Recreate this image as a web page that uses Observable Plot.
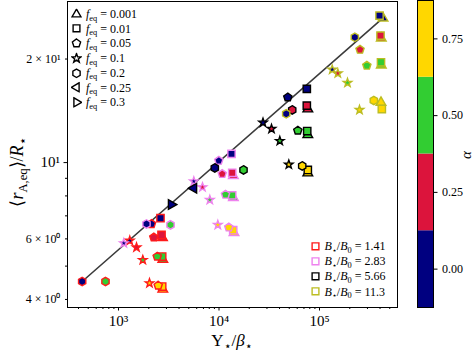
<!DOCTYPE html>
<html><head><meta charset="utf-8">
<script src="https://cdn.jsdelivr.net/npm/d3@7"></script>
<script src="https://cdn.jsdelivr.net/npm/@observablehq/plot@0.6"></script>
<style>
body{margin:0;background:#fff;}
#fig{position:relative;width:474px;height:353px;overflow:hidden;font-family:"Liberation Serif",serif;color:#000;}
#fig svg{position:absolute;left:0;top:0;}
.lbl{position:absolute;white-space:nowrap;line-height:1;}
.s{font-size:70%;position:relative;top:0.3em;}
.leg{position:absolute;white-space:nowrap;line-height:1;font-size:12px;display:flex;align-items:center;}
.leg svg{position:static !important;margin-right:4px;}
</style></head><body><div id="fig"></div>
<script>
// ---- data: [feq, alpha, x = Upsilon/beta, y = <r_A,eq>/R] per B*/B0 group ----
const groupB141 = [
  [0.2,0,435,4.51],[0.2,0.5,742,4.51],
  [0.1,0,1295,5.93],[0.1,0.25,1511,5.67],[0.1,0.5,1745,5.21],[0.1,0.75,2034,4.46],
  [0.05,0,2130,6.63],[0.05,0.25,2245,6.06],[0.05,0.5,2427,5.33],[0.05,0.75,2483,4.39],
  [0.001,0.25,2740,6.05],[0.001,0.5,2760,5.23],[0.001,0.75,2760,4.28],
  [0.01,0,2617,6.89],[0.01,0.25,2679,6.16],[0.01,0.5,2721,5.33],[0.01,0.75,2721,4.36]
];
const groupB283 = [
  [0.1,0,1129,5.83],[0.2,0,1899,6.63],[0.2,0.5,3292,6.59],
  [0.1,0,5616,8.82],[0.1,0.25,6850,8.48],[0.1,0.5,8100,7.79],[0.1,0.75,9730,6.59],
  [0.05,0,9954,10.13],[0.05,0.25,10760,9.27],[0.05,0.5,11605,8.07],[0.05,0.75,12515,6.48],
  [0.001,0.25,13900,9.15],[0.001,0.5,13900,7.9],[0.001,0.75,14100,6.25],
  [0.01,0,13315,10.6],[0.01,0.25,13530,9.34],[0.01,0.5,13530,8.03],[0.01,0.75,13845,6.36]
];
const groupB566 = [
  [0.3,0,3345,7.55],[0.25,0,5616,8.42],
  [0.2,0,9083,9.65],[0.2,0.5,17530,9.52],
  [0.1,0,27400,13.07],[0.1,0.25,33300,12.53],[0.1,0.5,40270,11.56],[0.1,0.75,49480,9.87],
  [0.05,0,48350,15.48],[0.2,0.25,53500,14.23],[0.05,0.5,60830,12.39],[0.2,0.75,67290,9.78],
  [0.001,0.25,76500,14.31],[0.001,0.5,76500,12.04],[0.001,0.75,76500,9.32],
  [0.01,0,74760,16.38],[0.01,0.25,74760,14.64],[0.01,0.5,75450,12.35],[0.01,0.75,76500,9.52]
];
const groupB113 = [
  [0.2,0,46640,13.86],
  [0.1,0,133800,18.64],[0.1,0.25,152100,18.18],[0.1,0.5,189900,17.06],[0.1,0.75,250000,14.23],
  [0.2,0,224500,23.13],[0.05,0.25,252900,21.3],[0.05,0.5,295700,19.14],[0.2,0.75,347000,15.15],
  [0.001,0,428600,26.3],[0.001,0.25,412000,23.0],[0.001,0.5,412000,19.2],[0.001,0.75,409000,14.95],
  [0.01,0,395400,26.75],[0.01,0.25,404600,23.4],[0.01,0.5,409000,19.57],[0.01,0.75,417000,14.31]
];
const fitX = [435, 421000];
const fitY = [4.51, 26.2];

const Bvalues = [1.41, 2.83, 5.66, 11.3];
const Blabels = ["1.41", "2.83", "5.66", "11.3"];
const Bcolors = ["#ff1a1a", "#ee82ee", "#000000", "#bcbd22"];
const feqValues = [0.001, 0.01, 0.05, 0.1, 0.2, 0.25, 0.3];
const feqLabels = ["0.001", "0.01", "0.05", "0.1", "0.2", "0.25", "0.3"];
const feqShapes = ["tri", "sq", "pent", "star", "hex", "tril", "trir"];
const alphaValues = [0, 0.25, 0.5, 0.75];
const alphaColors = ["#000080", "#dc143c", "#32cd32", "#ffd700"];
const alphaTicks = [0, 0.25, 0.5, 0.75];
const xMajor = [1e3, 1e4, 1e5];
const xMajorLabels = ["10³", "10⁴", "10⁵"];
const xMinor = [400,500,600,700,800,900,2000,3000,4000,5000,6000,7000,8000,9000,
  20000,30000,40000,50000,60000,70000,80000,90000,200000,300000,400000,500000];
const yMajor = [10];
const yMajorLabels = ["10¹"];
const yMinor = [4,5,6,7,8,9,20];
const yMinorLabels = ["4 × 10⁰","","6 × 10⁰","","","","2 × 10¹"];

// ---- symbols ----
function poly(n, startDeg, scale) {
  return {draw(ctx, size) {
    const r = Math.sqrt(size / Math.PI) * scale;
    for (let i = 0; i < n; i++) {
      const a = (startDeg + 360 * i / n) * Math.PI / 180;
      const x = r * Math.cos(a), y = r * Math.sin(a);
      i ? ctx.lineTo(x, y) : ctx.moveTo(x, y);
    }
    ctx.closePath();
  }};
}
const starSym = {draw(ctx, size) {
  const r = Math.sqrt(size / Math.PI);
  for (let i = 0; i < 10; i++) {
    const rr = i % 2 ? r * 0.48 : r * 1.2;
    const a = (-90 + 36 * i) * Math.PI / 180;
    const x = rr * Math.cos(a), y = rr * Math.sin(a);
    i ? ctx.lineTo(x, y) : ctx.moveTo(x, y);
  }
  ctx.closePath();
}};
const SYM = {
  tri: poly(3, -90, 1.3), sq: poly(4, 45, 1.2), pent: poly(5, -90, 1.08),
  star: starSym, hex: poly(6, -90, 1.05), tril: poly(3, 180, 1.3), trir: poly(3, 0, 1.3)
};
const SIZE = {tri: 4.3, sq: 4.3, pent: 4.0, star: 3.7, hex: 4.0, tril: 4.3, trir: 4.3};

// ---- build table ----
const groups = [groupB141, groupB283, groupB566, groupB113];
const pts = [];
groups.forEach((g, gi) => g.forEach(([f, a, x, y]) => pts.push({
  B: Bvalues[gi], stroke: Bcolors[gi], shape: feqShapes[feqValues.indexOf(f)],
  fill: alphaColors[alphaValues.indexOf(a)], x, y
})));
const fit = fitX.map((x, i) => ({x, y: fitY[i]}));

const W = 474, H = 353;
const dotMarks = ["tri","sq","pent","hex","star","tril","trir"].map(k =>
  Plot.dot(pts.filter(d => d.shape === k), {x: "x", y: "y", r: SIZE[k], symbol: SYM[k],
    fill: "fill", stroke: "stroke", strokeWidth: 1.4}));

const main = Plot.plot({
  width: W, height: H, marginLeft: 67, marginRight: 77, marginTop: 1, marginBottom: 46,
  style: {fontFamily: "'Liberation Serif', serif", background: "transparent", color: "#000"},
  color: {type: "identity"},
  x: {type: "log", domain: [310.8, 597000]},
  y: {type: "log", domain: [3.79, 29.4]},
  marks: [
    Plot.axisX({ticks: xMinor, tickSize: 2, tickFormat: () => "", label: null}),
    Plot.axisX({ticks: xMajor, tickSize: 3.5, tickPadding: 4, fontSize: 15,
      tickFormat: d => xMajorLabels[xMajor.indexOf(d)], label: null}),
    Plot.axisY({ticks: yMinor, tickSize: 2, tickPadding: 5, fontSize: 12,
      tickFormat: d => yMinorLabels[yMinor.indexOf(d)], label: null}),
    Plot.axisY({ticks: yMajor, tickSize: 3.5, tickPadding: 4, fontSize: 15,
      tickFormat: d => yMajorLabels[yMajor.indexOf(d)], label: null}),
    Plot.line(fit, {x: "x", y: "y", stroke: "#3b3b3b", strokeWidth: 1.6}),
    ...dotMarks,
    Plot.frame({stroke: "#000", strokeWidth: 1})
  ]
});

const bins = alphaValues.map((a, i) => ({lo: a - 0.125, hi: a + 0.125, c: alphaColors[i]}));
const cbar = Plot.plot({
  width: W, height: H, marginLeft: 417, marginRight: 41, marginTop: 0, marginBottom: 46,
  style: {fontFamily: "'Liberation Serif', serif", background: "transparent", color: "#000"},
  color: {type: "identity"},
  x: {domain: [0, 1], axis: null},
  y: {domain: [-0.125, 0.875]},
  marks: [
    Plot.rect(bins, {x1: 0, x2: 1, y1: "lo", y2: "hi", fill: "c"}),
    Plot.axisY({anchor: "right", ticks: alphaTicks, tickFormat: d3.format(".2f"),
      tickSize: 3.5, tickPadding: 5, fontSize: 12, label: null}),
    Plot.frame({stroke: "#000"})
  ]
});

const fig = document.getElementById("fig");
fig.appendChild(main);
fig.appendChild(cbar);

function addHTML(html, style, cls = "lbl") {
  const d = document.createElement("div");
  d.className = cls; d.innerHTML = html;
  Object.assign(d.style, style);
  fig.appendChild(d);
  return d;
}
// axis titles
addHTML('Υ<span class="s">⋆</span>/<i>β</i><span class="s">⋆</span>',
  {left: "232px", top: "340px", fontSize: "17px", transform: "translate(-50%,-50%)"});
addHTML('⟨<i>r</i><span class="s">A,eq</span>⟩/<i>R</i><span class="s">⋆</span>',
  {left: "17px", top: "172px", fontSize: "18px", transform: "translate(-50%,-50%) rotate(-90deg)"});
addHTML('<i>α</i>', {left: "466px", top: "155px", fontSize: "15px", transform: "translate(-50%,-50%) rotate(-90deg)"});

function swatch(sym, stroke) {
  const p = d3.path(); sym.draw(p, Math.PI * 4 * 4);
  return `<svg width="11" height="11" viewBox="-5.5 -5.5 11 11"><path d="${p}" fill="#fff" stroke="${stroke}" stroke-width="1.4"/></svg>`;
}
// feq legend
feqValues.forEach((f, i) => {
  addHTML(swatch(SYM[feqShapes[i]], "#000") + `<span><i>f</i><span class="s">eq</span> = ${feqLabels[i]}</span>`,
    {left: "71px", top: (14 + i * 14.7) + "px", transform: "translateY(-50%)"}, "leg");
});
// B legend
Bvalues.forEach((b, i) => {
  addHTML(swatch(SYM.sq, Bcolors[i]) + `<span><i>B</i><span class="s">⋆</span>/<i>B</i><span class="s">0</span> = ${Blabels[i]}</span>`,
    {left: "309.5px", top: (246 + i * 15.2) + "px", transform: "translateY(-50%)"}, "leg");
});
</script></body></html>
